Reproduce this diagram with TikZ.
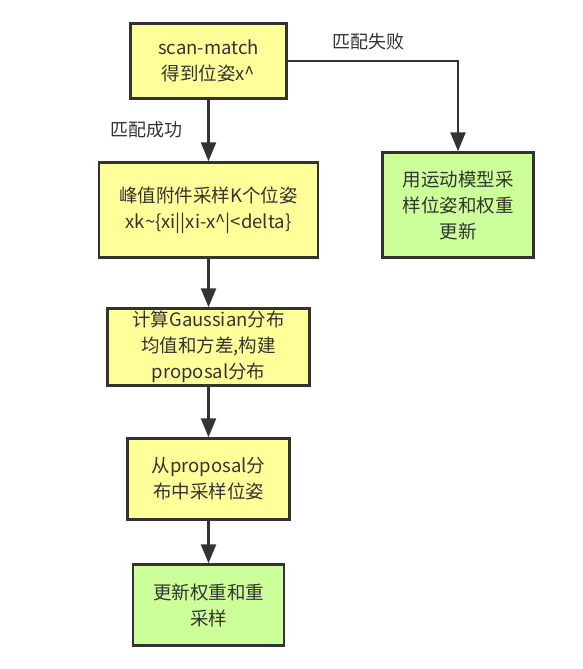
\documentclass[tikz,border=0pt]{standalone}
\usepackage{fontspec}
\newfontfamily\cjk{Noto Sans CJK SC}
\usetikzlibrary{arrows.meta}
\definecolor{boxyellow}{HTML}{FFFF99}
\definecolor{boxgreen}{HTML}{CCFF99}
\definecolor{darkline}{HTML}{333333}
\tikzset{
  flowbox/.style={draw=darkline, line width=2.5pt, align=center, text=darkline,
    font=\cjk\fontsize{18.5}{26}\selectfont, inner sep=0pt},
  yellowbox/.style={flowbox, fill=boxyellow},
  greenbox/.style={flowbox, fill=boxgreen},
  flowarrow/.style={darkline, line width=2.5pt, -{Triangle[width=15pt,length=19pt]}},
  flowlabel/.style={text=darkline, font=\cjk\fontsize{18}{20}\selectfont}
}

\begin{document}
\begin{tikzpicture}[x=1pt,y=-1pt]
\useasboundingbox (0,0) rectangle (582,669);
% boxes
\node[yellowbox, minimum width=156pt, minimum height=75pt] (match) at (208.5,61) {scan-match\\得到位姿x\^{}};
\node[yellowbox, minimum width=219pt, minimum height=95pt] (peak) at (208.5,210) {峰值附件采样K个位姿\\xk\textasciitilde\{xi||xi-x\^{}|<delta\}};
\node[greenbox, minimum width=151pt, minimum height=105pt] (motion) at (458,205) {用运动模型采\\样位姿和权重\\更新};
\node[yellowbox, minimum width=202pt, minimum height=77pt] (gauss) at (208.5,347) {计算Gaussian分布\\均值和方差,构建\\proposal分布};
\node[yellowbox, minimum width=162pt, minimum height=81pt] (sample) at (208.5,479) {从proposal分\\布中采样位姿};
\node[greenbox, minimum width=151pt, minimum height=81pt] (resample) at (208.5,605) {更新权重和重\\采样};
% labels
\node[flowlabel] (fail) at (368,42) {匹配失败};
\node[flowlabel] (succ) at (146,130) {匹配成功};
% arrows
\draw[flowarrow] (match) -- (peak);
\draw[flowarrow] (match.east) -| (motion.north);
\draw[flowarrow] (peak) -- (gauss);
\draw[flowarrow] (gauss) -- (sample);
\draw[flowarrow] (sample) -- (resample);
\end{tikzpicture}
\end{document}
